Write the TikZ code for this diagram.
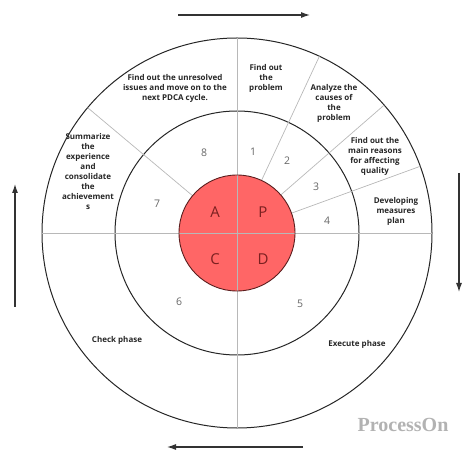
\documentclass[tikz,border=0pt]{standalone}
\usepackage{fontspec}
\setmainfont{Open Sans}
\newfontfamily\markfont{Liberation Serif}
\usetikzlibrary{arrows.meta}
\definecolor{pdcared}{HTML}{FF6666}
\definecolor{pdcaedge}{HTML}{5A1E1E}
\definecolor{pdcaletter}{HTML}{7A2020}
\definecolor{raygray}{HTML}{B8B8B8}
\tikzset{
  phasetext/.style={font=\bfseries\fontsize{8}{10}\selectfont, align=center, text=black!85, inner sep=0pt},
  numtext/.style={font=\fontsize{10.5}{12}\selectfont, text=black!60, inner sep=0pt},
  lettertext/.style={font=\fontsize{15}{17}\selectfont, text=pdcaletter, inner sep=0pt},
  ray/.style={draw=raygray, line width=0.7pt},
  ring/.style={draw=black!85, line width=1pt},
  turn/.style={-{Latex[length=9pt,width=6pt]}, line width=1.1pt, draw=black!80}
}
\begin{document}
\begin{tikzpicture}[x=1pt,y=-1pt]
\useasboundingbox (0,0) rectangle (474,462);
\def\rout{195pt}
\def\rmid{122pt}
\def\rin{58pt}
\coordinate (O) at (237,233);
\draw[ring] (O) circle (\rout) (O) circle (\rmid);
\fill[pdcared] (O) circle (\rin);
\draw[ray] ([shift={(180:\rout)}]O) -- ([shift={(0:\rout)}]O);
\draw[ray] ([shift={(90:\rout)}]O) -- ([shift={(270:\rout)}]O);
\foreach \a in {20,41,65,140}
  \draw[ray] ([shift={(\a:\rin)}]O) -- ([shift={(\a:\rout)}]O);
\draw[draw=pdcaedge, line width=0.9pt] (O) circle (\rin);
\node[lettertext] (lettA) at (215,212) {A};
\node[lettertext] (lettP) at (263,212) {P};
\node[lettertext] (lettC) at (215,259) {C};
\node[lettertext] (lettD) at (263,259) {D};
\node[numtext] (num1) at (253,152) {1};
\node[numtext] (num2) at (287,161) {2};
\node[numtext] (num3) at (316,187) {3};
\node[numtext] (num4) at (327,221) {4};
\node[numtext] (num5) at (300,304) {5};
\node[numtext] (num6) at (179,302) {6};
\node[numtext] (num7) at (157,204) {7};
\node[numtext] (num8) at (204,153) {8};
\node[phasetext] (nextcycle) at (175,88) {Find out the unresolved\\issues and move on to the\\next PDCA cycle.};
\node[phasetext] (findprob) at (266,78) {Find out\\the\\problem};
\node[phasetext] (causes) at (334,103) {Analyze the\\causes of\\the\\problem};
\node[phasetext] (reasons) at (375,156) {Find out the\\main reasons\\for affecting\\quality};
\node[phasetext] (measures) at (396,211) {Developing\\measures\\plan};
\node[phasetext] (summary) at (88,172) {Summarize\\the\\experience\\and\\consolidate\\the\\achievement\\s};
\node[phasetext] (check) at (117,340) {Check phase};
\node[phasetext] (execute) at (357,344) {Execute phase};
\node[font=\markfont\bfseries\fontsize{20}{22}\selectfont, text=black!30] (mark) at (403,425) {ProcessOn};
\coordinate (topL) at (178,15);
\coordinate (topR) at (310,15);
\coordinate (rightT) at (459,173);
\coordinate (rightB) at (459,292);
\coordinate (botR) at (303,447);
\coordinate (botL) at (167,447);
\coordinate (leftB) at (15,307);
\coordinate (leftT) at (15,184);
\draw[turn] (topL) -- (topR);
\draw[turn] (rightT) -- (rightB);
\draw[turn] (botR) -- (botL);
\draw[turn] (leftB) -- (leftT);
\end{tikzpicture}
\end{document}
